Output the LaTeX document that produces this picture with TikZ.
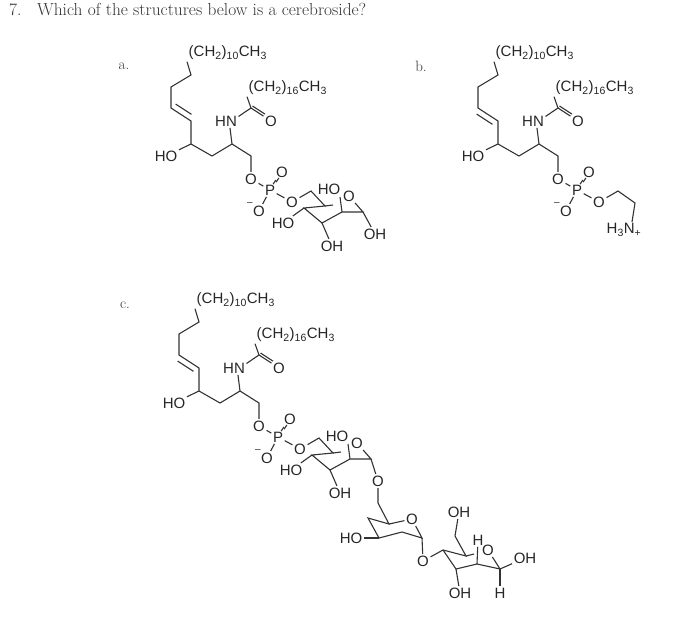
\documentclass[tikz,border=0pt]{standalone}
\usepackage{fontspec}
\newfontfamily\chemfont{Liberation Sans}
\usepackage{tikz}

\begin{document}
\begin{tikzpicture}[x=1pt, y=-1pt,
    bond/.style = {line width=1.1pt, black!80},
    atom/.style = {inner sep=1.5pt, font=\chemfont\fontsize{15}{17}\selectfont, text=black!85},
    tag/.style = {inner sep=0pt, font=\fontsize{15}{17}\selectfont, text=black!80}]

    \useasboundingbox (0,0) rectangle (700,642);

    % Question and the three answer letters
    \node[tag, anchor=base west, font=\fontsize{17.4}{19}\selectfont] (num) at (9,15.5) {7.};
    \node[tag, anchor=base west, font=\fontsize{17.4}{19}\selectfont] (question) at (37,15.5) {Which of the structures below is a cerebroside?};
    \node[tag] (la) at (124,66) {a.};
    \node[tag] (lb) at (421,66) {b.};
    \node[tag] (lc) at (125,305) {c.};

    % Lipid with phosphate, the same in a, b and c
    \foreach \p/\dx/\dy/\ox/\oy in {a/0/0/3/-5, b/307/0/-3/5, c/8/247/-3/5} {
        \begin{scope}[shift={(\dx,\dy)}]
            \node[atom, anchor=west] (\p-tail) at (187,53) {(CH\textsubscript{2})\textsubscript{10}CH\textsubscript{3}};
            \node[atom, anchor=west] (\p-acyl) at (247,88) {(CH\textsubscript{2})\textsubscript{16}CH\textsubscript{3}};
            \node[atom] (\p-HO) at (166,156) {HO};
            \node[atom] (\p-HN) at (226,121) {HN};
            \node[atom] (\p-Oc) at (271,121) {O};
            \node[atom] (\p-O1) at (251,179) {O};
            \node[atom] (\p-P) at (270,190) {P};
            \node[atom] (\p-O2) at (282,172) {O};
            \node[atom] (\p-O3) at (259,211) {O};
            \node[atom, font=\chemfont\fontsize{10}{12}\selectfont] (\p-minus) at (250,204) {\textendash};
            \node[atom] (\p-O4) at (292,202) {O};

            \coordinate (\p-c1) at (191,75);
            \coordinate (\p-c2) at (171,87);
            \coordinate (\p-c3) at (171,108);
            \coordinate (\p-c4) at (191,121);
            \coordinate (\p-c5) at (191,144);
            \coordinate (\p-c6) at (212,156);
            \coordinate (\p-c7) at (232,144);
            \coordinate (\p-c8) at (251,156);
            \coordinate (\p-c9) at (251,108);

            \draw[bond] (\p-tail.south west) -- (\p-c1) -- (\p-c2) -- (\p-c3) -- (\p-c4) -- (\p-c5) -- (\p-c6) -- (\p-c7) -- (\p-c8) -- (\p-O1);
            \draw[bond, shorten <=2pt, shorten >=3pt] ([shift={(\ox,\oy)}]\p-c3) -- ([shift={(\ox,\oy)}]\p-c4);
            \draw[bond] (\p-c5) -- (\p-HO);
            \draw[bond] (\p-c7) -- (\p-HN.-60);
            \draw[bond] (\p-HN.20) -- (\p-c9);
            \draw[bond] (\p-c9) -- (\p-acyl.south west);
            \draw[bond] (\p-c9) -- (\p-Oc);
            \draw[bond, transform canvas={shift={(1.5pt,2pt)}}] (\p-c9) -- (\p-Oc);
            \draw[bond] (\p-O1) -- (\p-P);
            \draw[bond] (\p-P) -- (\p-O3);
            \draw[bond] (\p-P) -- (\p-O4);
            \draw[bond, transform canvas={shift={(-1.5pt,-1pt)}}] (\p-P) -- (\p-O2);
            \draw[bond, transform canvas={shift={(1.5pt,1pt)}}] (\p-P) -- (\p-O2);
        \end{scope}
    }

    % Sugar ring on a and on c
    \foreach \p/\dx/\dy in {a/0/0, c/8/247} {
        \begin{scope}[shift={(\dx,\dy)}]
            \node[atom] (\p-HOa) at (329,189) {HO};
            \node[atom] (\p-Or) at (349,196) {O};
            \node[atom] (\p-HOb) at (283,223) {HO};
            \node[atom] (\p-OHa) at (332,246) {OH};
            \coordinate (\p-r0) at (311,191);
            \coordinate (\p-r1) at (325,206);
            \coordinate (\p-r2) at (304,208);
            \coordinate (\p-r3) at (322,223);
            \coordinate (\p-r4) at (342,212);
            \coordinate (\p-r5) at (363,212);
            \coordinate (\p-r6) at (340,197);
            \coordinate (\p-r7) at (333,205);
            \draw[bond] (\p-O4) -- (\p-r0) -- (\p-r1) -- (\p-r2) -- (\p-r3) -- (\p-r4) -- (\p-r5) -- (\p-Or);
            \draw[bond] (\p-r6) -- (\p-r4);
            \draw[bond] (\p-r1) -- (\p-r7);
            \draw[bond] (\p-r2) -- (\p-HOb);
            \draw[bond] (\p-r3) -- (\p-OHa);
        \end{scope}
    }
    \node[atom] (a-OHb) at (375,234) {OH};
    \draw[bond] (a-r5) -- (a-OHb);

    % End of b
    \node[atom, anchor=west] (b-N) at (605,230) {H\textsubscript{3}N\textsubscript{+}};
    \coordinate (b-c10) at (618,191);
    \coordinate (b-c11) at (635,203);
    \coordinate (b-c12) at (632,222);
    \draw[bond] (b-O4) -- (b-c10) -- (b-c11) -- (b-c12);

    % Two more sugars on c
    \node[atom] (c-Ol) at (378,481) {O};
    \node[atom] (c-Oq) at (412,519) {O};
    \node[atom] (c-HOc) at (351,538) {HO};
    \node[atom] (c-Om) at (423,561) {O};
    \node[atom] (c-OHc) at (459,512) {OH};
    \node[atom] (c-H1) at (478,540) {H};
    \node[atom] (c-Op) at (488,550) {O};
    \node[atom] (c-OHd) at (525,558) {OH};
    \node[atom] (c-OHe) at (460,593) {OH};
    \node[atom] (c-H2) at (500,593) {H};

    \coordinate (c-s0) at (378,503);
    \coordinate (c-s1) at (389,524);
    \coordinate (c-s2) at (368,518);
    \coordinate (c-s3) at (379,538);
    \coordinate (c-s4) at (402,532);
    \coordinate (c-s5) at (422,538);
    \coordinate (c-u0) at (455,536);
    \coordinate (c-u1) at (466,556);
    \coordinate (c-u2) at (443,550);
    \coordinate (c-u3) at (456,569);
    \coordinate (c-u4) at (477,564);
    \coordinate (c-u5) at (500,569);
    \coordinate (c-u6) at (474,554);

    \draw[bond] (c-r5) -- (c-Ol) -- (c-s0) -- (c-s1) -- (c-s2) -- (c-s3) -- (c-s4) -- (c-s5) -- (c-Oq) -- (c-s1);
    \draw[bond] (c-s3) -- (c-HOc);
    \draw[bond] (c-s5) -- (c-Om) -- (c-u2) -- (c-u3) -- (c-u4) -- (c-u5) -- (c-Op);
    \draw[bond] (c-H1) -- (c-u4);
    \draw[bond] (c-OHc) -- (c-u0) -- (c-u1) -- (c-u2);
    \draw[bond] (c-u1) -- (c-u6);
    \draw[bond] (c-u3) -- (c-OHe);
    \draw[bond] (c-u5) -- (c-OHd);
    \draw[bond] (c-u5) -- (c-H2);

\end{tikzpicture}
\end{document}
